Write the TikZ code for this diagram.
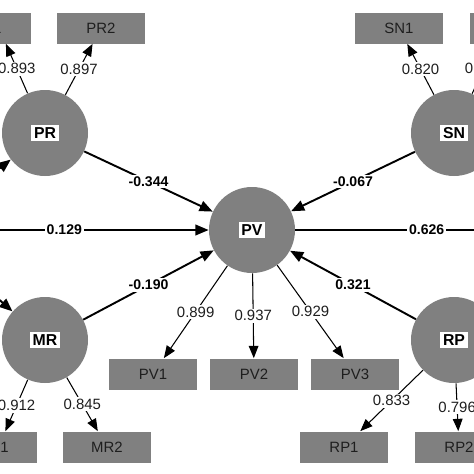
\documentclass[tikz,border=0pt]{standalone}
\usepackage{fontspec}
\setmainfont{Liberation Sans}
\usetikzlibrary{arrows.meta}

\newlength{\du}
\setlength{\du}{0.02cm}
\definecolor{plsgray}{RGB}{128,128,128}
\definecolor{plstext}{RGB}{30,30,30}
\newcommand{\lvname}[1]{{\setlength{\fboxsep}{1.5pt}\colorbox{white}{\textcolor{black}{\bfseries #1}}}}

\tikzset{
  latent/.style={circle,fill=plsgray,minimum size=86\du,inner sep=0pt,font=\fontsize{9}{10}\selectfont},
  indicator/.style={rectangle,fill=plsgray,minimum width=88\du,minimum height=31\du,inner sep=0pt,text=plstext,font=\fontsize{8.5}{10}\selectfont},
  loading/.style={line width=0.6pt,-{Triangle[length=7pt,width=5.5pt]}},
  structural/.style={line width=1.1pt,-{Triangle[length=7.5pt,width=6pt]}},
  loadlbl/.style={fill=white,inner sep=1pt,text=plstext,font=\fontsize{8.5}{10}\selectfont},
  coeflbl/.style={fill=white,inner sep=1pt,font=\bfseries\fontsize{8}{9}\selectfont}
}

\begin{document}
\begin{tikzpicture}
\pgftransformxscale{1.000000}
\pgftransformyscale{-1.000000}
\useasboundingbox (0\du,0\du) rectangle (474\du,474\du);
\fill[white] (0\du,0\du) rectangle (474\du,474\du);
\clip (0\du,0\du) rectangle (474\du,474\du);

% latent variables
\node[latent] (PR) at (45\du,133\du) {\lvname{PR}};
\node[latent] (SN) at (454\du,133\du) {\lvname{SN}};
\node[latent] (PV) at (252\du,230\du) {\lvname{PV}};
\node[latent] (MR) at (45\du,340\du) {\lvname{MR}};
\node[latent] (RP) at (454\du,340\du) {\lvname{RP}};

% indicators
\node[indicator] (PR1) at (-13\du,28\du) {PR1};
\node[indicator] (PR2) at (101\du,28\du) {PR2};
\node[indicator] (SN1) at (399\du,28\du) {SN1};
\node[indicator] (SN2) at (514\du,28\du) {SN2};
\node[indicator] (PV1) at (153\du,374\du) {PV1};
\node[indicator] (PV2) at (254\du,374\du) {PV2};
\node[indicator] (PV3) at (355\du,374\du) {PV3};
\node[indicator] (MR1) at (-7\du,447\du) {MR1};
\node[indicator] (MR2) at (107\du,447\du) {MR2};
\node[indicator] (RP1) at (344\du,447\du) {RP1};
\node[indicator] (RP2) at (459\du,447\du) {RP2};

% off-picture ends
\coordinate (lft) at (-80\du,230\du);
\coordinate (rgt) at (558\du,230\du);

% outer model
\draw[loading] (PR) -- (PR1.-40) node[loadlbl,pos=0.5] {0.893};
\draw[loading] (PR) -- (PR2) node[loadlbl,pos=0.5] {0.897};
\draw[loading] (SN) -- (SN1) node[loadlbl,pos=0.5] {0.820};
\draw[loading] (SN) -- (SN2.-140) node[loadlbl,pos=0.5] {0.870};
\draw[loading] (PV) -- (PV1) node[loadlbl,pos=0.5] {0.899};
\draw[loading] (PV) -- (PV2) node[loadlbl,pos=0.5] {0.937};
\draw[loading] (PV) -- (PV3) node[loadlbl,pos=0.5] {0.929};
\draw[loading] (MR) -- (MR1.52) node[loadlbl,pos=0.5] {0.912};
\draw[loading] (MR) -- (MR2) node[loadlbl,pos=0.5] {0.845};
\draw[loading] (RP) -- (RP1) node[loadlbl,pos=0.5] {0.833};
\draw[loading] (RP) -- (RP2) node[loadlbl,pos=0.5] {0.796};

% inner model
\draw[structural] (PR) -- (PV) node[coeflbl,pos=0.5] {-0.344};
\draw[structural] (SN) -- (PV) node[coeflbl,pos=0.5] {-0.067};
\draw[structural] (MR) -- (PV) node[coeflbl,pos=0.5] {-0.190};
\draw[structural] (RP) -- (PV) node[coeflbl,pos=0.5] {0.321};
\draw[structural] (lft) -- (PV) node[coeflbl,pos=0.5] {0.129};
\draw[structural] (PV) -- (rgt) node[coeflbl,pos=0.5] {0.626};
\draw[structural] (lft) -- (PR);
\draw[structural] (lft) -- (MR);
\end{tikzpicture}
\end{document}
